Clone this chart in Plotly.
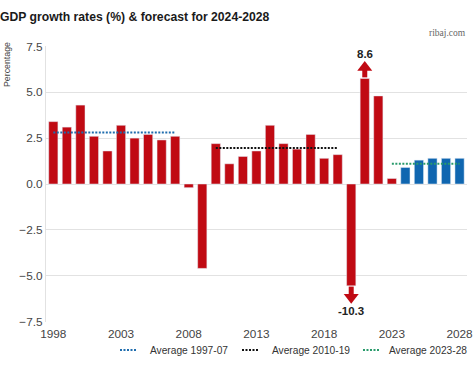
import numpy as np
import plotly.graph_objects as go

# ---- data ----
years_actual = list(range(1998, 2024))
growth_actual = [3.4, 3.1, 4.3, 2.6, 1.8, 3.2, 2.5, 2.7, 2.4, 2.6,
                 -0.2, -4.6, 2.2, 1.1, 1.5, 1.8, 3.2, 2.2, 1.9, 2.7,
                 1.4, 1.6, -10.3, 8.6, 4.8, 0.3]
years_forecast = [2024, 2025, 2026, 2027, 2028]
growth_forecast = [0.9, 1.3, 1.4, 1.4, 1.4]

avg_labels = ["Average 1997-07", "Average 2010-19", "Average 2023-28"]
avg_start = [1998, 2010, 2023]
avg_end = [2007, 2019, 2028]
avg_values = [2.8, 1.96, 1.1]

x_ticks = [1998, 2003, 2008, 2013, 2018, 2023, 2028]
y_ticks = [-7.5, -5.0, -2.5, 0.0, 2.5, 5.0, 7.5]

# ---- style ----
W, H = 474, 375
ML, MR, MT, MB = 46, 7, 46, 53
PW, PH = W - ML - MR, H - MT - MB
RED = "#C00A13"
BLUE = "#0F66B0"
AVG_COLORS = ["#1F6DAE", "#111111", "#2A9B6C"]
GRID = "#E2E2E2"
TXT = "#454545"
FONT = "Liberation Sans, Arial, sans-serif"
CLIP_TOP, CLIP_BOTTOM = 5.75, -5.55
DASH = "2px,1.5px"


def px_x(p):
    return (p - ML) / PW


def px_y(p):
    return (H - MB - p) / PH


fig = go.Figure()

shown = np.clip(np.array(growth_actual), CLIP_BOTTOM, CLIP_TOP)
fig.add_trace(go.Bar(x=years_actual, y=shown, marker_color=RED, width=0.68,
                     showlegend=False, hoverinfo="skip"))
fig.add_trace(go.Bar(x=years_forecast, y=growth_forecast, marker_color=BLUE,
                     width=0.68, showlegend=False, hoverinfo="skip"))

for lab, x0, x1, v, c in zip(avg_labels, avg_start, avg_end, avg_values, AVG_COLORS):
    fig.add_trace(go.Scatter(x=[x0, x1], y=[v, v], mode="lines", name=lab,
                             showlegend=False,
                             line=dict(color=c, width=2, dash=DASH)))


def add_arrow(yr, stem_y, head_y, head_symbol):
    fig.add_trace(go.Scatter(x=[yr], y=[stem_y], mode="markers",
                             marker=dict(symbol="line-ns", size=6,
                                         line=dict(color=RED, width=5)),
                             showlegend=False, hoverinfo="skip"))
    fig.add_trace(go.Scatter(x=[yr], y=[head_y], mode="markers",
                             marker=dict(symbol=head_symbol, size=13, color=RED),
                             showlegend=False, hoverinfo="skip"))


# arrows for values beyond the visible range
for yr, v in zip(years_actual, growth_actual):
    if v > CLIP_TOP:
        add_arrow(yr, CLIP_TOP + 0.29, CLIP_TOP + 0.6, "triangle-up")
        fig.add_annotation(x=yr, y=CLIP_TOP + 1.32, text=f"<b>{v:.1f}</b>",
                           showarrow=False, font=dict(size=11.5, color="#222", family=FONT))
    elif v < CLIP_BOTTOM:
        add_arrow(yr, CLIP_BOTTOM - 0.27, CLIP_BOTTOM - 0.62, "triangle-down")
        fig.add_annotation(x=yr, y=CLIP_BOTTOM - 1.36, text=f"<b>{v:.1f}</b>",
                           showarrow=False, font=dict(size=11.5, color="#222", family=FONT))

# legend (drawn manually so it can run to the right edge like the original)
legend_line_x = [120, 242, 363]
legend_text_x = [148, 270, 387]
LEG_Y = 350
for lab, c, lx, tx in zip(avg_labels, AVG_COLORS, legend_line_x, legend_text_x):
    fig.add_shape(type="line", xref="paper", yref="paper",
                  x0=px_x(lx), x1=px_x(lx + 17), y0=px_y(LEG_Y), y1=px_y(LEG_Y),
                  line=dict(color=c, width=2, dash=DASH))
    fig.add_annotation(xref="paper", yref="paper", x=px_x(tx), y=px_y(LEG_Y),
                       xanchor="left", yanchor="middle", text=lab, showarrow=False,
                       font=dict(size=10.2, color="#333", family=FONT))

fig.add_annotation(xref="paper", yref="paper", x=px_x(7), y=px_y(65), text="Percentage",
                   textangle=-90, showarrow=False, xanchor="center", yanchor="middle",
                   font=dict(size=8.8, color=TXT, family=FONT))
fig.add_annotation(xref="paper", yref="paper", x=px_x(468), y=px_y(33),
                   xanchor="right", yanchor="middle",
                   text="ribaj.com", showarrow=False,
                   font=dict(size=9.5, color="#666", family="Liberation Serif, serif"))

fig.update_layout(
    width=W, height=H,
    margin=dict(l=ML, r=MR, t=MT, b=MB, autoexpand=False),
    plot_bgcolor="white", paper_bgcolor="white",
    barmode="overlay",
    showlegend=False,
    title=dict(text="<b>GDP growth rates (%) & forecast for 2024-2028</b>",
               x=0.0, xref="container", xanchor="left",
               y=1 - 17 / H, yref="container", yanchor="middle",
               font=dict(size=12.2, color="#1a1a1a", family=FONT)),
    font=dict(family=FONT, color=TXT),
)
fig.update_xaxes(range=[1997.46, 2028.55], tickvals=x_ticks, showgrid=False,
                 zeroline=False, showline=False, ticks="",
                 ticklabeloverflow="allow", ticklabelstandoff=3,
                 tickfont=dict(size=11.8, color=TXT))
fig.update_yaxes(range=[-7.52, 7.52], tickvals=y_ticks, tickformat=".1f",
                 gridcolor=GRID, zeroline=False, showline=True, linecolor=GRID,
                 ticks="", tickfont=dict(size=11.8, color=TXT))

fig.write_html("out.html", config={"displayModeBar": False},
               post_script="document.body.style.margin='0';")
